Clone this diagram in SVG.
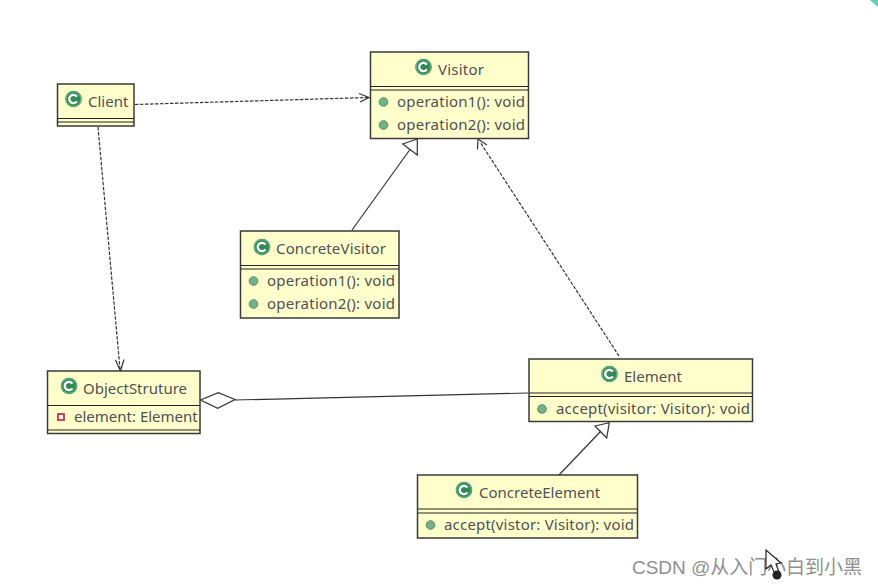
<svg xmlns="http://www.w3.org/2000/svg" width="878" height="588" viewBox="0 0 878 588">
<style>
.box{fill:#ffffcc;stroke:#3a3a3a;stroke-width:1.5}
.sep{stroke:#222;stroke-width:1.2;fill:none}
.t{font-family:"Noto Sans","Liberation Sans",sans-serif;font-size:15px;fill:#4f4f55}
.c{fill:none;stroke:#333;stroke-width:1.2}
.d{stroke-dasharray:3.5 1.5}
.w{font-family:"Liberation Sans","Noto Sans CJK SC",sans-serif;font-size:19px;fill:#8f8f8f}
</style>
<defs>
<g id="cls"><circle r="8.300" fill="#2f8a57"/><circle r="7.300" fill="none" stroke="#6fb58c" stroke-width="1"/><path d="M3.400-2.400A4.200 4.200 0 1 0 3.400 2.400" fill="none" stroke="#fff" stroke-width="2.300"/></g>
<g id="pub"><circle r="4.300" fill="#74b088" stroke="#4d8f68" stroke-width="1"/></g>
<g id="priv"><rect x="-3" y="-3" width="6" height="6" fill="#fff" stroke="#c8324a" stroke-width="1.800"/></g>
</defs>
<path d="M870 0L878 7V0Z" fill="#35c4a4" opacity=".8"/>
<g id="connectors">
<path class="c d" d="M135 104.500L368 97.500"/>
<path class="c" d="M359 93.500L369 97.500L360 102"/>
<path class="c d" d="M98 127L120 369"/>
<path class="c" d="M115.500 360L120.500 371L124 359.500"/>
<path class="c" d="M352 230L410 149.500"/>
<path class="c" d="M402.700 144L417.300 139L417.300 155Z" fill="#fff"/>
<path class="c d" d="M619 356L480 142"/>
<path class="c" d="M477.500 149.500L478 139L487 145"/>
<path class="c" d="M235 400L528 393"/>
<path class="c" d="M200.500 400L218.300 392.700L235 399.500L217.700 408.300Z" fill="#fff"/>
<path class="c" d="M559 475L601 431"/>
<path class="c" d="M595 426L609.300 422.700L606.700 438Z" fill="#fff"/>
</g>
<g id="client">
<rect class="box" x="57.500" y="84" width="76.500" height="42"/>
<path class="sep" d="M58 118.500H134M58 122H134"/>
<use href="#cls" x="73.500" y="99"/>
<text class="t" x="88" y="107">Client</text>
</g>
<g id="visitor">
<rect class="box" x="370.500" y="52" width="158" height="86.500"/>
<path class="sep" d="M371 86.500H528M371 90H528"/>
<use href="#cls" x="423.500" y="67"/>
<text class="t" x="438" y="75" textLength="46">Visitor</text>
<use href="#pub" x="383.500" y="102"/>
<text class="t" x="397" y="107" textLength="128">operation1(): void</text>
<use href="#pub" x="383.500" y="125"/>
<text class="t" x="397" y="130" textLength="128">operation2(): void</text>
</g>
<g id="concrete-visitor">
<rect class="box" x="240.500" y="231" width="158.500" height="87"/>
<path class="sep" d="M241 265.500H399M241 269H399"/>
<use href="#cls" x="262" y="247"/>
<text class="t" x="276" y="254" textLength="110">ConcreteVisitor</text>
<use href="#pub" x="253.500" y="281"/>
<text class="t" x="267" y="286" textLength="128">operation1(): void</text>
<use href="#pub" x="253.500" y="304"/>
<text class="t" x="267" y="309" textLength="128">operation2(): void</text>
</g>
<g id="object-struture">
<rect class="box" x="47.500" y="371" width="152.500" height="62.500"/>
<path class="sep" d="M48 405.500H200M48 430H200"/>
<use href="#cls" x="69" y="386"/>
<text class="t" x="83" y="394">ObjectStruture</text>
<use href="#priv" x="61" y="417"/>
<text class="t" x="74" y="422">element: Element</text>
</g>
<g id="element">
<rect class="box" x="529" y="359" width="223.500" height="62.500"/>
<path class="sep" d="M529 393H752M529 396.500H752"/>
<use href="#cls" x="609.500" y="374"/>
<text class="t" x="624" y="382">Element</text>
<use href="#pub" x="542" y="409"/>
<text class="t" x="556" y="414" textLength="194">accept(visitor: Visitor): void</text>
</g>
<g id="concrete-element">
<rect class="box" x="417.500" y="475" width="220" height="63"/>
<path class="sep" d="M418 509H637M418 513H637"/>
<use href="#cls" x="464" y="490"/>
<text class="t" x="479" y="498">ConcreteElement</text>
<use href="#pub" x="430.500" y="525"/>
<text class="t" x="444" y="530" textLength="190">accept(vistor: Visitor): void</text>
</g>
<text class="w" x="632" y="574" textLength="230">CSDN @从入门小白到小黑</text>
<path d="M766 550L766 569L771 565L775 574L779 572L776 564L781 563Z" fill="#fff" stroke="#222" stroke-width="1.200"/>
<circle cx="777" cy="575" r="4.500" fill="#222"/>
</svg>
